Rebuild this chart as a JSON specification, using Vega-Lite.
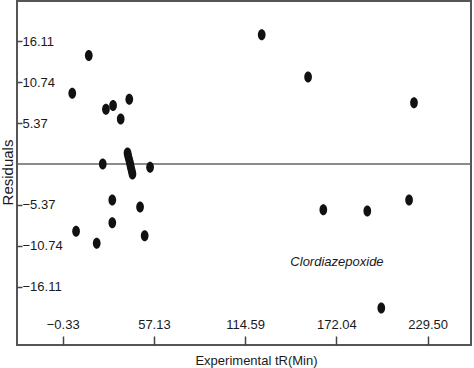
{
  "$schema": "https://vega.github.io/schema/vega-lite/v6.json",
  "width": 454,
  "height": 344,
  "autosize": {"type": "none"},
  "padding": {"left": 17, "top": 1, "right": 3, "bottom": 23},
  "background": "white",
  "config": {
    "view": {"stroke": "#555", "strokeWidth": 2},
    "font": "Liberation Sans",
    "axis": {"labelFont": "Liberation Sans", "titleFont": "Liberation Sans", "labelFontSize": 13, "titleFontSize": 13, "labelColor": "#1a1a1a", "titleColor": "#1a1a1a", "titleFontWeight": "normal", "tickColor": "#444", "tickWidth": 1.5, "ticks": true, "grid": false, "domain": false, "zindex": 1}
  },
  "datasets": {
    "points": [
      {"tR": 16.1, "residual": 14.26},
      {"tR": 5.7, "residual": 9.28},
      {"tR": 26.9, "residual": 7.18},
      {"tR": 31.4, "residual": 7.7},
      {"tR": 41.6, "residual": 8.49},
      {"tR": 36.2, "residual": 5.9},
      {"tR": 24.9, "residual": 0.0},
      {"tR": 54.7, "residual": -0.43},
      {"tR": 40.5, "residual": 1.44},
      {"tR": 40.9, "residual": 1.05},
      {"tR": 41.4, "residual": 0.66},
      {"tR": 41.9, "residual": 0.26},
      {"tR": 42.3, "residual": -0.13},
      {"tR": 42.7, "residual": -0.52},
      {"tR": 43.2, "residual": -0.92},
      {"tR": 43.6, "residual": -1.31},
      {"tR": 30.9, "residual": -4.72},
      {"tR": 48.4, "residual": -5.64},
      {"tR": 30.9, "residual": -7.7},
      {"tR": 8.1, "residual": -8.83},
      {"tR": 21.1, "residual": -10.4},
      {"tR": 51.3, "residual": -9.4},
      {"tR": 125.0, "residual": 16.97},
      {"tR": 154.2, "residual": 11.42},
      {"tR": 220.9, "residual": 8.04},
      {"tR": 163.8, "residual": -6.0},
      {"tR": 191.5, "residual": -6.17},
      {"tR": 217.8, "residual": -4.72},
      {"tR": 200.3, "residual": -18.9}
    ],
    "notes": [
      {"tR": 172.4, "residual": -12.86, "label": "Clordiazepoxide"}
    ],
    "zero": [
      {"residual": 0}
    ]
  },
  "layer": [
    {
      "data": {"name": "zero"},
      "mark": {"type": "rule", "color": "#666", "strokeWidth": 1.5},
      "encoding": {"y": {"field": "residual", "type": "quantitative", "scale": {"domain": [-23.75, 21.4], "nice": false, "zero": false}}}
    },
    {
      "data": {"name": "points"},
      "mark": {"type": "point", "filled": true, "color": "#111", "opacity": 1, "size": 121, "shape": "M 0 -1 A 0.7 1 0 1 1 0 1 A 0.7 1 0 1 1 0 -1 Z"},
      "encoding": {
        "x": {
          "field": "tR", "type": "quantitative",
          "scale": {"domain": [-29.1, 256.8], "nice": false, "zero": false},
          "axis": {"title": "Experimental tR(Min)", "values": [-0.33, 57.13, 114.59, 172.04, 229.5], "format": ".2f", "offset": -9, "tickSize": 9, "labelPadding": -17, "labelBaseline": "alphabetic", "titleX": 239, "titleY": 28, "titleAlign": "center", "titleBaseline": "alphabetic"}
        },
        "y": {
          "field": "residual", "type": "quantitative",
          "scale": {"domain": [-23.75, 21.4], "nice": false, "zero": false},
          "axis": {"title": "Residuals", "values": [-16.11, -10.74, -5.37, 5.37, 10.74, 16.11], "format": ".2f", "offset": -5, "tickSize": 5, "labelPadding": -5, "labelAlign": "left", "titleX": -10, "titleY": 171, "titleAngle": -90, "titleAlign": "center", "titleBaseline": "alphabetic", "titleFontSize": 15}
        }
      }
    },
    {
      "data": {"name": "notes"},
      "mark": {"type": "text", "font": "Liberation Sans", "fontStyle": "italic", "fontSize": 13, "color": "#1a1a1a", "align": "center", "baseline": "middle"},
      "encoding": {
        "x": {"field": "tR", "type": "quantitative"},
        "y": {"field": "residual", "type": "quantitative"},
        "text": {"field": "label"}
      }
    }
  ]
}
